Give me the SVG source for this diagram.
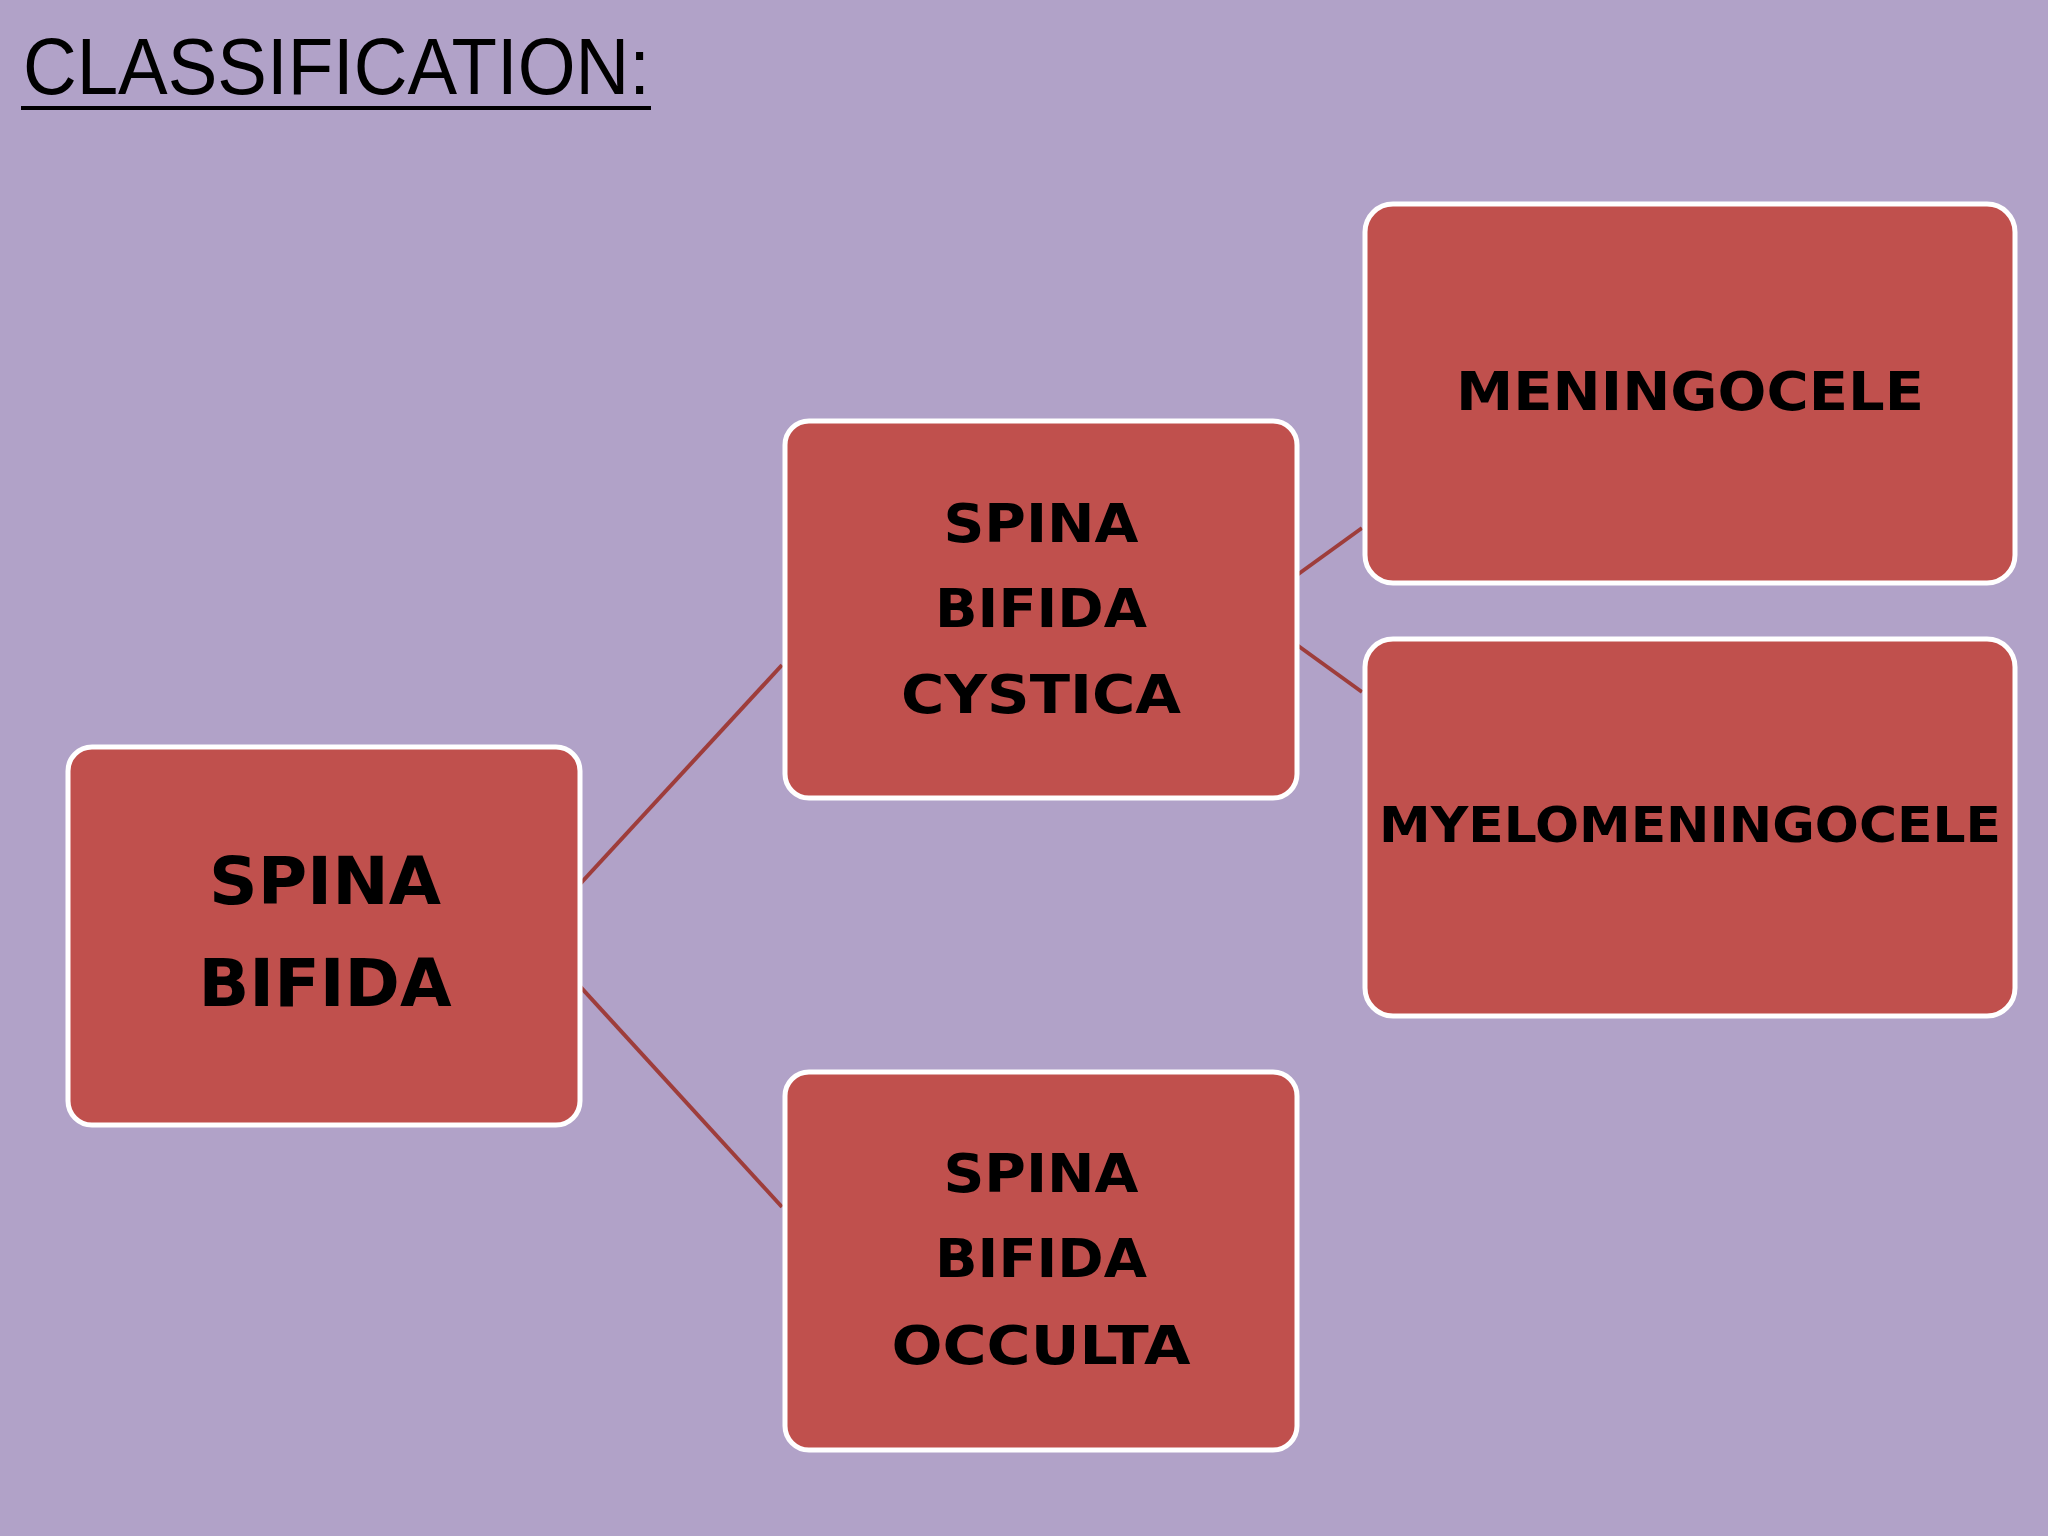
<svg xmlns="http://www.w3.org/2000/svg" width="2048" height="1536" viewBox="0 0 2048 1536">
<style>
.box{fill:#C0504D;stroke:#fff;stroke-width:5}
.t{font-family:"DejaVu Sans","Liberation Sans",sans-serif;font-weight:900;fill:#000;text-anchor:middle}
.c{stroke:#9E3D3B;stroke-width:4;fill:none}
</style>
<rect width="2048" height="1536" fill="#B1A2C8"/>
<text x="23" y="94" font-family="Liberation Sans, sans-serif" font-size="80" textLength="627" lengthAdjust="spacingAndGlyphs">CLASSIFICATION:</text>
<line x1="21" y1="108" x2="651" y2="108" stroke="#000" stroke-width="4"/>
<g id="connectors">
<line class="c" x1="533" y1="935" x2="782" y2="665"/>
<line class="c" x1="533" y1="935" x2="782" y2="1207"/>
<line class="c" x1="1297" y1="575" x2="1362" y2="528"/>
<line class="c" x1="1297" y1="645" x2="1362" y2="692"/>
</g>
<g id="spina-bifida">
<rect class="box" x="68" y="747" width="512" height="378" rx="24"/>
<text class="t" x="325" y="904" font-size="66" textLength="232" lengthAdjust="spacingAndGlyphs">SPINA</text>
<text class="t" x="325" y="1006" font-size="66" textLength="253" lengthAdjust="spacingAndGlyphs">BIFIDA</text>
</g>
<g id="cystica">
<rect class="box" x="785" y="421" width="512" height="377" rx="24"/>
<text class="t" x="1041" y="542" font-size="54" textLength="195" lengthAdjust="spacingAndGlyphs">SPINA</text>
<text class="t" x="1041" y="627" font-size="54" textLength="212" lengthAdjust="spacingAndGlyphs">BIFIDA</text>
<text class="t" x="1041" y="713" font-size="54" textLength="280" lengthAdjust="spacingAndGlyphs">CYSTICA</text>
</g>
<g id="occulta">
<rect class="box" x="785" y="1072" width="512" height="378" rx="24"/>
<text class="t" x="1041" y="1192" font-size="54" textLength="195" lengthAdjust="spacingAndGlyphs">SPINA</text>
<text class="t" x="1041" y="1277" font-size="54" textLength="212" lengthAdjust="spacingAndGlyphs">BIFIDA</text>
<text class="t" x="1041" y="1364" font-size="54" textLength="299" lengthAdjust="spacingAndGlyphs">OCCULTA</text>
</g>
<g id="meningocele">
<rect class="box" x="1365" y="204" width="650" height="379" rx="28"/>
<text class="t" x="1690" y="410" font-size="54" textLength="468" lengthAdjust="spacingAndGlyphs">MENINGOCELE</text>
</g>
<g id="myelomeningocele">
<rect class="box" x="1365" y="639" width="650" height="377" rx="28"/>
<text class="t" x="1690" y="842" font-size="50" textLength="622" lengthAdjust="spacingAndGlyphs">MYELOMENINGOCELE</text>
</g>
</svg>
